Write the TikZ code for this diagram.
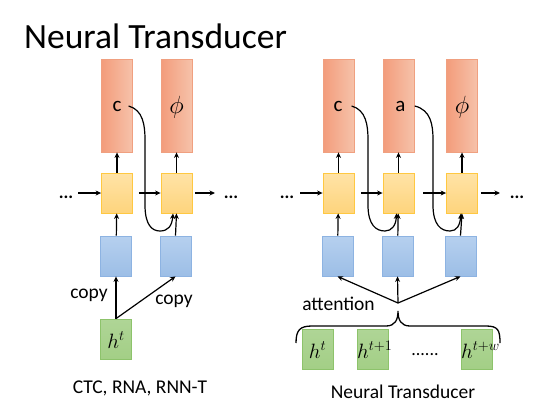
\documentclass[tikz,border=0pt]{standalone}
\usepackage{fontspec}
\setmainfont{Carlito}
\usetikzlibrary{arrows.meta,calc}
\definecolor{redL}{HTML}{F39C7B}
\definecolor{redR}{HTML}{F6C2AA}
\definecolor{redD}{HTML}{F0A080}
\definecolor{yelT}{HTML}{FFE3A6}
\definecolor{yelB}{HTML}{FED47D}
\definecolor{yelD}{HTML}{FFC841}
\definecolor{bluT}{HTML}{B6D0EF}
\definecolor{bluB}{HTML}{9CBEE6}
\definecolor{bluD}{HTML}{8DB3E2}
\definecolor{grnT}{HTML}{AFD596}
\definecolor{grnB}{HTML}{A3CF86}
\definecolor{grnD}{HTML}{8DC36B}
\tikzset{
  box/.style={minimum width=31pt, inner sep=0pt, line width=0.8pt},
  outbox/.style={box, minimum height=93pt, draw=redD, left color=redL, right color=redR},
  rnnbox/.style={box, minimum height=40pt, draw=yelD, top color=yelT, bottom color=yelB},
  encbox/.style={box, minimum height=40pt, draw=bluD, top color=bluT, bottom color=bluB},
  hbox/.style={box, minimum height=40pt, draw=grnD, top color=grnT, bottom color=grnB},
  arr/.style={-{Stealth[length=5.5pt,width=5pt]}, line width=1.2pt},
  letter/.style={inner ysep=0pt, inner xsep=7pt, font=\fontsize{21}{24}\selectfont},
  lbl/.style={font=\fontsize{19.5}{22}\selectfont, inner sep=0pt},
  mth/.style={font=\fontsize{22}{26}\selectfont, inner sep=0pt},
  phil/.style={font=\fontsize{25}{28}\selectfont, inner sep=0pt},
  dots/.style={font=\fontsize{18}{20}\selectfont\bfseries, inner sep=0pt}
}
\begin{document}
\begin{tikzpicture}[x=1pt,y=-1pt]
\useasboundingbox (0,0) rectangle (554,413);
\fill[white] (0,0) rectangle (554,413);

% title
\node[anchor=base west, inner sep=0pt, font=\fontsize{35.5}{40}\selectfont] (title) at (24,48) {Neural Transducer};

% ---------- left diagram ----------
\node[outbox] (r1) at (117,105.5) {};
\node[outbox] (r2) at (176.5,105.5) {};
\node[letter] (lc) at (117,106) {c};
\node[phil] (lphi) at (176.5,107) {$\phi$};
\node[rnnbox] (y1) at (117,193) {};
\node[rnnbox] (y2) at (176.5,193) {};
\node[encbox] (b1) at (116,256) {};
\node[encbox] (b2) at (175.5,256) {};
\node[hbox] (g0) at (116,339) {};
\node[mth] at (116,340) {$h^t$};
\node[dots, anchor=base] (dl1) at (66,198) {...};
\node[dots, anchor=base] (dl2) at (231,198) {...};

\draw[arr] (y1) -- (r1);
\draw[arr] (y2) -- (r2);
\draw[arr] (b1) -- (y1);
\draw[arr] (b2.north) -- (y2.south);
\draw[arr] (78,193) coordinate (la) -- (y1.west);
\draw[arr, shorten <=6pt] (y1.east) -- (y2.west);
\draw[arr, shorten <=3pt] (y2.east) -- (215,193) coordinate (ra);
\draw[arr] (g0.north) -- (b1.south);
\draw[arr] (g0.north) -- (b2.south);
\node[lbl] at (89,295) {copy};
\node[lbl] at (174,301) {copy};
\draw[arr] (lc.east) .. controls (143,110) and (145,125) .. (145,140) -- (145,205)
  .. controls (145,225) and (152,231) .. (160,231)
  .. controls (168,231) and (172,226) .. ($(y2.south)+(-3.5,0)$);
\node[lbl] at (140,388) {CTC, RNA, RNN-T};

% ---------- right diagram ----------
\node[outbox] (R1) at (338.5,105.5) {};
\node[outbox] (R2) at (398.5,105.5) {};
\node[outbox] (R3) at (462,105.5) {};
\node[letter, inner xsep=9pt] (rc) at (338,106) {c};
\node[letter, inner xsep=9pt] (ra2) at (400.5,106) {a};
\node[phil] (rphi) at (462,107) {$\phi$};
\node[rnnbox] (Y1) at (338.5,193) {};
\node[rnnbox] (Y2) at (398.5,193) {};
\node[rnnbox] (Y3) at (462,193) {};
\node[encbox] (B1) at (337.5,256) {};
\node[encbox] (B2) at (397.5,256) {};
\node[encbox] (B3) at (460.5,256) {};
\node[dots, anchor=base] (dr1) at (287,198) {...};
\node[dots, anchor=base] (dr2) at (517,198) {...};

\draw[arr] (Y1) -- (R1);
\draw[arr] (Y2) -- (R2);
\draw[arr] (Y3) -- (R3);
\draw[arr] (B1) -- (Y1);
\draw[arr] (B2) -- (Y2);
\draw[arr] (B3.north) -- (Y3.south);
\draw[arr] (300,193) coordinate (rla) -- (Y1.west);
\draw[arr, shorten <=7pt] (Y1.east) -- (Y2.west);
\draw[arr, shorten <=9pt] (Y2.east) -- (Y3.west);
\draw[arr, shorten <=3pt] (Y3.east) -- (500,193) coordinate (rra);

\draw[arr] (rc.east) .. controls (366,110) and (368,125) .. (368,140) -- (368,205)
  .. controls (368,225) and (376,231) .. (385,231)
  .. controls (392,231) and (396,225) .. ($(Y2.south)+(-2,0)$);
\draw[arr] (ra2.east) .. controls (431,110) and (433,125) .. (433,140) -- (433,205)
  .. controls (433,225) and (441,231) .. (450,231)
  .. controls (457,231) and (460,225) .. ($(Y3.south)+(-1,0)$);

\coordinate (att) at (398,303);
\draw[arr] (att) -- (B1.south);
\draw[arr] (att) -- (B2.south);
\draw[arr] (att) -- (B3.south);
\node[lbl] at (338.5,304) {attention};

\node[hbox] (G1) at (317.5,349) {};
\node[hbox] (G2) at (372.5,349) {};
\node[hbox] (G3) at (476.5,349) {};
\node[mth] at (317.5,350) {$h^t$};
\node[mth, anchor=west] at (357,350) {$h^{t+1}$};
\node[mth, anchor=west] at (461,350) {$h^{t+w}$};
\node[dots, anchor=base, font=\fontsize{18}{20}\selectfont] (hd) at (425,355) {......};

\draw[line width=1.3pt] (296,343) .. controls (296,330) and (300,326) .. (312,326) -- (386,326)
  .. controls (395,326) and (398,320) .. (398,311)
  .. controls (398,320) and (401,326) .. (410,326) -- (486,326)
  .. controls (498,326) and (500,330) .. (500,343);

\node[lbl] at (403,392) {Neural Transducer};
\end{tikzpicture}
\end{document}
